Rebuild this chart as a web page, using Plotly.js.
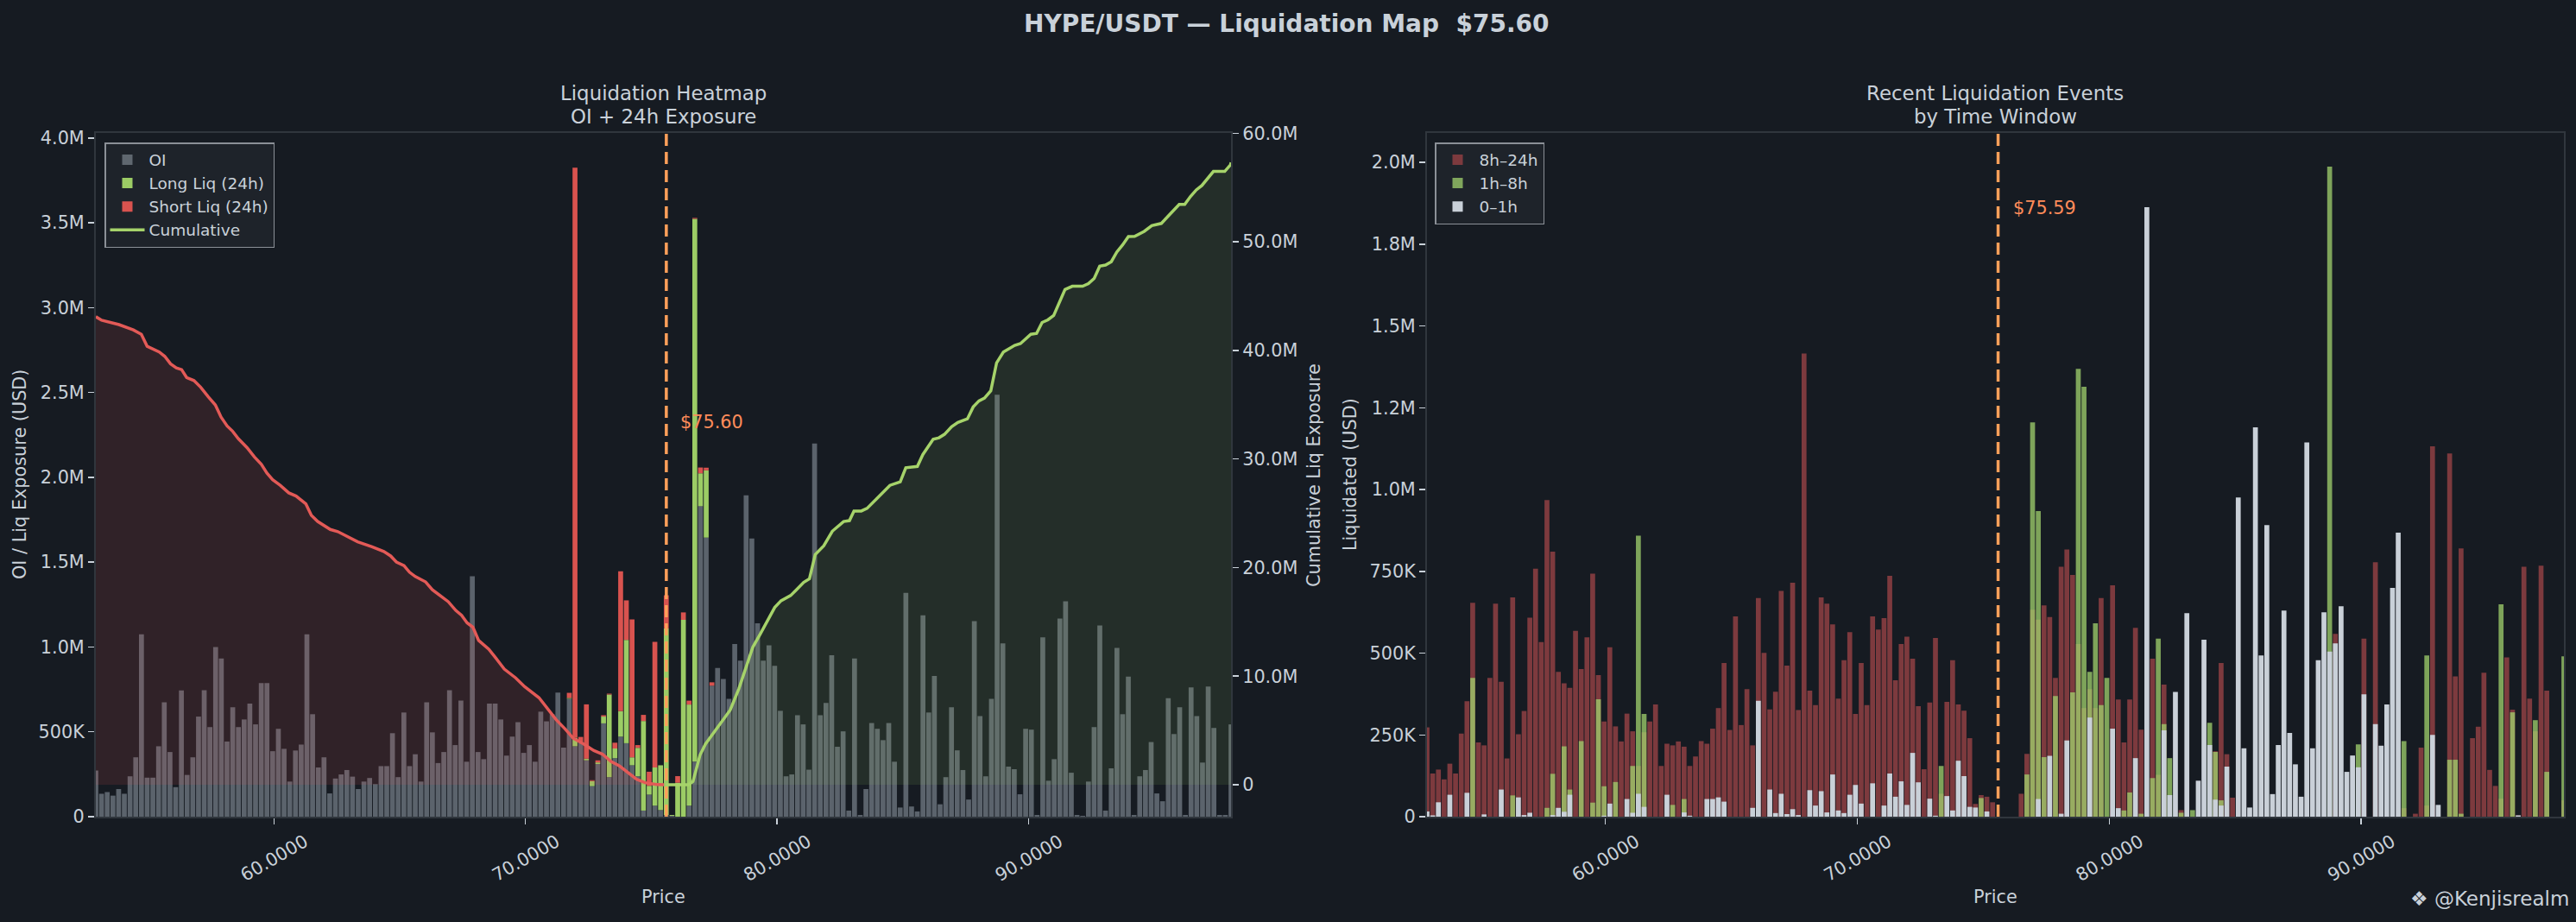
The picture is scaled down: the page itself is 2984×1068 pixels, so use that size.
<!DOCTYPE html>
<html>
<head>
<meta charset="utf-8">
<script src="https://cdn.plot.ly/plotly-3.0.1.min.js"></script>
<style>
  html, body { margin: 0; padding: 0; background: #161b22; }
  #chart { width: 2984px; height: 1068px; }
</style>
</head>
<body>
<div id="chart"></div>
<script>
// HYPE/USDT liquidation map: left = OI + 24h liq exposure, right = recent liq events by time window.
// Values are in USD millions, one entry per price bin (200 bins between PRICE_LO and PRICE_HI).

const PRICE_LO = 52.92
const PRICE_HI = 98.05
const N_BINS = 200
const CURRENT_PRICE = 75.60
const CURRENT_PRICE_RECENT = 75.59

// --- left: open interest per bin ---
const oi = [
  0.272, 0.135, 0.145, 0.124, 0.163, 0.135, 0.238, 0.35, 1.075, 0.23,
  0.23, 0.415, 0.674, 0.381, 0.174, 0.744, 0.246, 0.35, 0.59, 0.746,
  0.528, 1.0, 0.933, 0.443, 0.645, 0.528, 0.573, 0.666, 0.544, 0.788,
  0.788, 0.386, 0.518, 0.40, 0.207, 0.39, 0.425, 1.075, 0.604, 0.29,
  0.35, 0.137, 0.225, 0.249, 0.275, 0.236, 0.163, 0.207, 0.228, 0.192,
  0.298, 0.298, 0.492, 0.233, 0.614, 0.298, 0.368, 0.207, 0.674, 0.497,
  0.316, 0.381, 0.746, 0.422, 0.684, 0.324, 1.417, 0.381, 0.339, 0.666,
  0.666, 0.573, 0.36, 0.472, 0.557, 0.376, 0.422, 0.324, 0.619, 0.562,
  0.604, 0.731, 0.407, 0.695, 0.415, 0.44, 0.332, 0.18, 0.31, 0.55,
  0.233, 0.345, 0.472, 0.433, 0.303, 0.238, 0.036, 0.13, 0.065, 0.039,
  0.01, 0.005, 0, 0, 0.065, 0.324, 1.83, 1.645, 0.772, 0.876,
  0.811, 0.694, 1.018, 0.92, 1.894, 1.64, 1.14, 0.92, 1.01, 0.889,
  0.624, 0.238, 0.249, 0.598, 0.544, 0.277, 2.2, 0.598, 0.671, 0.951,
  0.412, 0.503, 0.036, 0.933, 0.01, 0.163, 0.552, 0.518, 0.451, 0.552,
  0.324, 0.054, 1.319, 0.06, 0.031, 1.187, 0.614, 0.829, 0.073, 0.233,
  0.645, 0.391, 0.275, 0.101, 1.153, 0.593, 0.238, 0.694, 2.487, 1.021,
  0.295, 0.28, 0.132, 0.518, 0.513, 0.01, 1.057, 0.212, 0.339, 1.168,
  1.269, 0.259, 0.01, 0.005, 0.207, 0.528, 1.127, 0.036, 0.285, 0.995,
  0.604, 0.826, 0.01, 0.238, 0.275, 0.44, 0.137, 0.091, 0.699, 0.487,
  0.645, 0.01, 0.762, 0.593, 0.319, 0.767, 0.523, 0.01, 0.01, 0.544
]

// 24h liquidations only exist near the price: bins LIQ_FIRST_BIN .. LIQ_FIRST_BIN + 25
const LIQ_FIRST_BIN = 83
const longLiq = [
  0.005, 0.05, 0, 0.01, 0.03, 0.01, 0.04, 0.487, 0.057, 0.15,
  0.609, 0.047, 0.168, 0.528, 0.052, 0.225, 0.264, 1.1, 0.005, 0.2,
  1.16, 0.596, 3.2, 0.194, 0.396, 0
]
const shortLiq = [
  0.03, 3.36, 0.03, 0.32, 0.005, 0.012, 0.008, 0.005, 0.034, 0.824,
  0.233, 0.813, 0.016, 0.036, 0.083, 0.741, 0, 0.195, 0, 0.039,
  0.044, 0.023, 0.005, 0.034, 0.016, 0.02
]

// cumulative exposure (right axis, USD millions): below price / above price
const cumBelowPrice = [
  52.92, 53.15, 53.84, 54.41, 54.73, 54.96, 55.44, 55.66, 55.89, 56.12,
  56.33, 56.53, 56.82, 57.09, 57.39, 57.67, 57.90, 58.14, 58.36, 58.59,
  58.93, 59.22, 59.50, 59.72, 59.95, 60.25, 60.59, 60.88, 61.27, 61.49,
  61.74, 62.24, 62.54, 62.99, 63.33, 63.90, 64.37, 64.64, 64.87, 65.17,
  65.39, 65.62, 66.03, 66.30, 66.53, 66.93, 67.23, 67.46, 67.68, 67.91,
  68.14, 68.54, 68.82, 69.16, 69.61, 69.97, 70.54, 70.88, 71.22, 71.56,
  71.90, 72.31, 72.72, 73.06, 73.40, 73.74, 74.08, 74.42, 74.76, 75.21,
  75.51
]
const cumBelowValue = [
  43.1, 42.77, 42.37, 41.88, 41.48, 40.38, 39.85, 39.45, 38.76, 38.39,
  38.23, 37.5, 37.22, 36.6, 35.72, 34.98, 33.85, 33.04, 32.55, 31.86,
  31.05, 30.2, 29.5, 28.7, 28.09, 27.57, 26.88, 26.59, 25.86, 24.81,
  24.24, 23.51, 23.31, 22.73, 22.37, 21.92, 21.48, 21.07, 20.51, 20.18,
  19.57, 19.17, 18.68, 17.95, 17.54, 16.86, 16.05, 15.6, 14.91, 14.51,
  13.29, 12.48, 11.67, 10.65, 9.84, 9.03, 8.01, 7.0, 5.99, 5.18,
  4.28, 3.76, 3.15, 2.82, 2.14, 1.73, 1.12, 0.51, 0.19, 0.02,
  0
]
const cumAbovePrice = [
  75.58, 76.48, 76.66, 76.94, 77.16, 77.50, 77.86, 78.14, 78.48, 78.77,
  79.04, 79.34, 79.63, 79.91, 80.16, 80.54, 80.77, 81.06, 81.29, 81.52,
  81.86, 82.20, 82.65, 82.88, 83.06, 83.35, 83.58, 84.03, 84.49, 84.90,
  85.12, 85.58, 85.80, 86.21, 86.44, 86.66, 86.94, 87.19, 87.57, 87.80,
  88.03, 88.25, 88.50, 88.73, 89.00, 89.45, 89.68, 90.09, 90.32, 90.54,
  90.77, 91.00, 91.22, 91.45, 91.74, 92.15, 92.38, 92.61, 92.83, 93.06,
  93.29, 93.51, 93.74, 93.97, 94.22, 94.60, 94.90, 95.28, 95.53, 95.99,
  96.21, 96.44, 96.67, 96.89, 97.35, 97.80, 98.03, 98.05
]
const cumAboveValue = [
  0, 0, 0.31, 2.74, 3.76, 4.85, 5.99, 6.88, 8.82, 10.86,
  12.68, 13.9, 15.11, 16.33, 16.94, 17.42, 17.95, 18.64, 18.97, 21.2,
  22.01, 23.35, 24.24, 24.32, 25.21, 25.21, 25.45, 26.47, 27.57, 27.89,
  29.19, 29.31, 30.41, 31.82, 31.95, 32.27, 32.96, 33.36, 33.69, 34.79,
  35.35, 35.6, 36.28, 38.84, 39.85, 40.46, 40.62, 41.48, 41.56, 42.57,
  42.81, 43.22, 44.4, 45.61, 45.9, 45.9, 46.14, 46.63, 47.76, 47.85,
  48.16, 49.06, 49.71, 50.48, 50.5, 50.96, 51.49, 51.69, 52.31, 53.44,
  53.44, 54.17, 54.78, 55.18, 56.48, 56.48, 57.09, 57.3
]

// --- right: recent liquidations per bin, by time window ---
const liq8to24h = [
  .273, .132, .144, .114, .162, .132, .254, .353, .654, .227,
  .218, .424, .651, .412, .178, .670, .252, .323, .608, .758,
  .534, .968, .81, .443, .408, .394, .568, .451, .548, .743,
  .433, .291, .518, .276, .23, .315, .261, .155, .258, .291,
  .343, .155, .223, .218, .23, .214, .155, .184, .231, .223,
  .269, .332, .47, .265, .612, .28, .39, .218, .668, .501,
  .328, .382, .69, .462, .715, .326, 1.416, .385, .341, .670,
  .651, .588, .361, .478, .564, .314, .47, .341, .612, .572,
  .607, .736, .417, .528, .55, .483, .338, .145, .349, .546,
  .07, .351, .478, .343, .324, .24, .039, .066, .061, .044,
  0, 0, 0, 0, .07, .192, .633, .602, .646, .61,
  .424, .764, .817, .739, .528, .332, .39, .332, .668, 0,
  .707, .358, .227, .358, .577, .266, 0, .483, .128, .404,
  0, 0, .02, 0, 0, 0, 0, 0, .2, .47,
  .191, .058, 0, 0, 0, 0, 0, 0, 0, 0,
  0, 0, 0, 0, 0, 0, 0, 0, 0, .559,
  0, 0, 0, 0, .544, 0, .778, 0, 0, 0,
  0, .026, 0, .009, .211, .034, 1.132, 0, 0, 1.11,
  .429, .82, 0, .24, .275, .44, .143, .094, .055, .487,
  .327, .004, .764, .361, .261, .767, .385, 0, 0, .05
]
const liq1to8h = [
  0, 0, 0, 0, 0, 0, 0, 0, .424, 0,
  0, 0, 0, 0, 0, .065, 0, 0, 0, 0,
  0, .027, .131, 0, .215, .083, 0, .231, 0, .043,
  .359, .093, 0, .106, 0, 0, .155, .859, .314, 0,
  0, 0, 0, .036, 0, .054, 0, 0, 0, 0,
  0, 0, 0, 0, 0, 0, 0, 0, 0, 0,
  0, 0, 0, 0, 0, 0, 0, 0, 0, 0,
  0, 0, 0, 0, 0, 0, 0, 0, 0, 0,
  0, 0, 0, 0, 0, 0, 0, 0, 0, 0,
  .155, 0, 0, 0, 0, 0, 0, .057, 0, 0,
  0, 0, 0, 0, 0, .129, 1.205, .934, .182, 0,
  .369, 0, 0, .38, 1.369, 1.314, .443, .591, .341, .424,
  0, 0, .019, .074, 0, .009, 0, .118, .544, .283,
  .179, 0, .012, 0, .02, 0, 0, .287, .198, .05,
  0, 0, 0, 0, 0, 0, 0, 0, 0, 0,
  0, 0, 0, 0, 0, 0, 0, 0, 1.987, 0,
  0, 0, 0, .221, 0, 0, 0, 0, 0, 0,
  0, .231, 0, 0, 0, .493, 0, 0, 0, .174,
  .174, .009, 0, 0, 0, 0, 0, 0, .649, 0,
  .319, 0, 0, 0, .295, 0, .137, 0, 0, .49
]
const liq0to1h = [
  .016, .004, .044, 0, .067, 0, 0, .073, 0, 0,
  .007, 0, 0, .083, 0, 0, .059, .005, .012, 0,
  0, 0, .005, .027, .015, .067, 0, 0, 0, 0,
  0, .003, .04, 0, 0, .054, .012, .07, .03, 0,
  0, 0, .067, 0, 0, .013, .003, 0, 0, .054,
  .054, .059, .046, 0, 0, 0, 0, .027, .354, 0,
  .083, .011, .07, .008, .023, .005, 0, .081, .034, .078,
  .013, .129, .019, .011, .067, .097, .04, 0, .102, 0,
  .034, .132, .061, .108, .036, .195, .105, 0, .055, .003,
  0, .063, .019, .171, .124, .03, .028, 0, .016, 0,
  0, 0, 0, 0, 0, 0, 0, .054, 0, .186,
  0, .009, .233, 0, 0, 0, .303, 0, 0, 0,
  .269, .026, 0, 0, .179, 0, 1.863, 0, 0, .264,
  .066, .381, 0, .622, 0, .11, .541, .219, .052, .034,
  .153, 0, .976, .209, .028, 1.19, .493, .891, .069, .219,
  .63, .256, .16, .061, 1.144, .209, .478, .625, .505, .53,
  .643, .137, .187, .151, .374, 0, .283, .217, .343, .699,
  .868, 0, 0, 0, 0, 0, .25, .036, 0, 0,
  0, 0, 0, 0, 0, 0, 0, 0, 0, 0,
  0, .004, 0, 0, 0, 0, 0, 0, 0, 0
]

// tick labels
const priceTicks = [60, 70, 80, 90]
const exposureTicks = [0, 0.5, 1, 1.5, 2, 2.5, 3, 3.5, 4]
const exposureTickText = ["0", "500K", "1.0M", "1.5M", "2.0M", "2.5M", "3.0M", "3.5M", "4.0M"]
const cumTicks = [0, 10, 20, 30, 40, 50, 60]
const cumTickText = ["0", "10.0M", "20.0M", "30.0M", "40.0M", "50.0M", "60.0M"]
const recentTicks = [0, 0.25, 0.5, 0.75, 1, 1.25, 1.5, 1.75, 2]
const recentTickText = ["0", "250K", "500K", "750K", "1.0M", "1.2M", "1.5M", "1.8M", "2.0M"]

// ------------------------------------------------------------------

const BIN_W = (PRICE_HI - PRICE_LO) / (N_BINS - 1)
const priceBins = Array.from({ length: N_BINS }, (_, i) => PRICE_LO + i * BIN_W)
const liqBins = priceBins.slice(LIQ_FIRST_BIN, LIQ_FIRST_BIN + longLiq.length)
// stacked like matplotlib's bottom=: OI, then long, then short on top
const longBase = longLiq.map((_, k) => oi[LIQ_FIRST_BIN + k])
const shortBase = longLiq.map((v, k) => oi[LIQ_FIRST_BIN + k] + v)

const BG = "#161b22"
const TEXT = "#c9d1d9"
const SPINE = "#30363d"
const PRICE_LINE = "#ffa05a"
const PRICE_TEXT = "#ff8c5a"
const FONT = "DejaVu Sans, Liberation Sans, sans-serif"

const W = 2984, H = 1068
const px = (x) => x / W
const py = (y) => 1 - y / H
const LEFT_X = [px(111), px(1426)]
const RIGHT_X = [px(1653), px(2970)]
const PLOT_Y = [py(946), py(154)]

const barWidth = BIN_W * 0.86

const traces = [
  { type: "bar", name: "OI", x: priceBins, y: oi, width: barWidth,
    marker: { color: "rgba(139,148,158,0.6)" }, xaxis: "x", yaxis: "y", legend: "legend" },
  { type: "bar", name: "Long Liq (24h)", x: liqBins, y: longLiq, base: longBase, width: barWidth,
    marker: { color: "#9ccc65" }, xaxis: "x", yaxis: "y", legend: "legend" },
  { type: "bar", name: "Short Liq (24h)", x: liqBins, y: shortLiq, base: shortBase, width: barWidth,
    marker: { color: "#d9534f" }, xaxis: "x", yaxis: "y", legend: "legend" },
  // cumulative areas sit on the twin axis, drawn over the bars
  { type: "scatter", mode: "lines", x: cumBelowPrice, y: cumBelowValue, fill: "tozeroy",
    fillcolor: "rgba(224,85,85,0.13)", line: { width: 0 }, showlegend: false, xaxis: "x", yaxis: "y2" },
  { type: "scatter", mode: "lines", x: cumAbovePrice, y: cumAboveValue, fill: "tozeroy",
    fillcolor: "rgba(156,204,101,0.11)", line: { width: 0 }, showlegend: false, xaxis: "x", yaxis: "y2" },
  { type: "scatter", mode: "lines", x: cumBelowPrice, y: cumBelowValue,
    line: { color: "#e35a57", width: 3.5 }, showlegend: false, xaxis: "x", yaxis: "y2" },
  { type: "scatter", mode: "lines", name: "Cumulative", x: cumAbovePrice, y: cumAboveValue,
    line: { color: "#a6d36a", width: 3.5 }, xaxis: "x", yaxis: "y2", legend: "legend" },

  // right: overlaid from zero, oldest window first
  { type: "bar", name: "8h–24h", x: priceBins, y: liq8to24h, width: barWidth,
    marker: { color: "#7d3a3e" }, xaxis: "x2", yaxis: "y3", legend: "legend2" },
  { type: "bar", name: "1h–8h", x: priceBins, y: liq1to8h, width: barWidth,
    marker: { color: "rgba(162,211,109,0.75)" }, xaxis: "x2", yaxis: "y3", legend: "legend2" },
  { type: "bar", name: "0–1h", x: priceBins, y: liq0to1h, width: barWidth,
    marker: { color: "#c9d0d8" }, xaxis: "x2", yaxis: "y3", legend: "legend2" }
]
traces.forEach((t) => { t.hoverinfo = "skip" })

const axisBase = {
  showgrid: false, zeroline: false, showline: true, linecolor: SPINE, linewidth: 2,
  ticks: "outside", ticklen: 7, tickwidth: 1.5, tickcolor: TEXT,
  tickfont: { size: 20.8, color: TEXT, family: FONT }, automargin: false, fixedrange: true
}
const priceAxis = {
  ...axisBase, range: [PRICE_LO, PRICE_HI], tickvals: priceTicks, tickformat: ".4f",
  tickangle: -30, ticklabelshift: 36, mirror: true
}

const legendBase = {
  xanchor: "left", yanchor: "top", bgcolor: "rgba(31,36,43,0.92)", bordercolor: "#8b9097",
  borderwidth: 1.5, font: { size: 18.5, color: TEXT, family: FONT }, itemwidth: 40, traceorder: "normal"
}

// text placed in paper coordinates, centred on the given point
const note = (text, x, y, size, extra) => ({
  text, x, y, xref: "paper", yref: "paper", xanchor: "center", yanchor: "middle", showarrow: false,
  font: { size, color: TEXT, family: FONT }, ...extra
})

const layout = {
  width: W, height: H,
  paper_bgcolor: BG, plot_bgcolor: BG,
  margin: { l: 0, r: 0, t: 0, b: 0 },
  font: { family: FONT, color: TEXT },
  barmode: "overlay",
  xaxis: { ...priceAxis, domain: LEFT_X, anchor: "y" },
  yaxis: { ...axisBase, domain: PLOT_Y, anchor: "x", range: [0, 4.03],
           tickvals: exposureTicks, ticktext: exposureTickText, mirror: true },
  yaxis2: { ...axisBase, overlaying: "y", side: "right", anchor: "x", range: [-2.94, 60.02],
            tickvals: cumTicks, ticktext: cumTickText },
  xaxis2: { ...priceAxis, domain: RIGHT_X, anchor: "y3" },
  yaxis3: { ...axisBase, domain: PLOT_Y, anchor: "x2", range: [0, 2.09],
            tickvals: recentTicks, ticktext: recentTickText, mirror: true },
  legend: { ...legendBase, x: px(121), y: py(165) },
  legend2: { ...legendBase, x: px(1662), y: py(165) },
  shapes: [
    { type: "line", xref: "x", yref: "y domain", x0: CURRENT_PRICE, x1: CURRENT_PRICE, y0: 0, y1: 1,
      line: { color: PRICE_LINE, width: 3.5, dash: "14px,7px" } },
    { type: "line", xref: "x2", yref: "y3 domain", x0: CURRENT_PRICE_RECENT, x1: CURRENT_PRICE_RECENT, y0: 0, y1: 1,
      line: { color: PRICE_LINE, width: 3.5, dash: "14px,7px" } }
  ],
  annotations: [
    note("<b>HYPE/USDT — Liquidation Map\u00a0\u00a0$75.60</b>", px(1490), py(27), 28),
    note("Liquidation Heatmap", px(768), py(108), 22.9),
    note("OI + 24h Exposure", px(768), py(135), 22.9),
    note("Recent Liquidation Events", px(2311), py(108), 22.9),
    note("by Time Window", px(2311), py(135), 22.9),
    note("Price", px(768), py(1039), 20.8),
    note("Price", px(2311), py(1039), 20.8),
    note("OI / Liq Exposure (USD)", px(23), py(550), 20.8, { textangle: -90 }),
    note("Cumulative Liq Exposure", px(1522), py(550), 20.8, { textangle: -90 }),
    note("Liquidated (USD)", px(1564), py(550), 20.8, { textangle: -90 }),
    note("❖ @Kenjisrealm", px(2978), py(1041), 23, { xanchor: "right" }),
    { text: "$75.60", x: 76.09, y: 2.326, xref: "x", yref: "y", xanchor: "left", yanchor: "middle",
      showarrow: false, font: { size: 20.8, color: PRICE_TEXT, family: FONT } },
    { text: "$75.59", x: 76.12, y: 1.86, xref: "x2", yref: "y3", xanchor: "left", yanchor: "middle",
      showarrow: false, font: { size: 20.8, color: PRICE_TEXT, family: FONT } }
  ]
}

Plotly.newPlot("chart", traces, layout, { displayModeBar: false, staticPlot: true })
</script>
</body>
</html>
